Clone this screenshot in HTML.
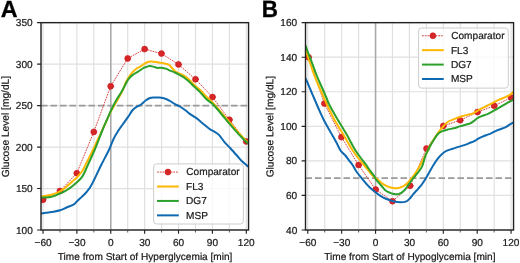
<!DOCTYPE html><html><head><meta charset="utf-8"><title>Glucose levels</title><style>html,body{margin:0;padding:0;background:#fff;width:520px;height:263px;overflow:hidden}svg{display:block;will-change:transform}</style></head><body>
<svg width="520" height="263" viewBox="0 0 520 263">
<rect width="520" height="263" fill="#fff"/>
<defs><clipPath id="ca"><rect x="41.00" y="22.65" width="207.55" height="207.35"/></clipPath>
<clipPath id="cb"><rect x="305.50" y="22.65" width="208.05" height="207.35"/></clipPath></defs>
<path d="M43.01,22.65V230.00M59.95,22.65V230.00M76.89,22.65V230.00M93.83,22.65V230.00M110.77,22.65V230.00M127.71,22.65V230.00M144.65,22.65V230.00M161.59,22.65V230.00M178.53,22.65V230.00M195.47,22.65V230.00M212.42,22.65V230.00M229.36,22.65V230.00M246.30,22.65V230.00M41.00,230.00H248.55M41.00,188.53H248.55M41.00,147.06H248.55M41.00,105.59H248.55M41.00,64.12H248.55M41.00,22.65H248.55" stroke="#e0e0e0" stroke-width="1.2" fill="none"/>
<path d="M110.77,22.65V230.00" stroke="#a8a8a8" stroke-width="1.5" fill="none"/>
<path d="M41.00,105.59H248.55" stroke="#9a9a9a" stroke-width="1.8" stroke-dasharray="6.5 3" fill="none"/>
<g clip-path="url(#ca)" fill="none" stroke-linejoin="round" stroke-linecap="round">
<path d="M43.00,199.80L59.90,191.00L76.80,173.20L93.80,131.90L110.70,86.20L127.70,58.40L144.60,49.10L161.50,53.60L178.50,64.40L195.50,79.30L212.50,97.10L229.40,119.80L246.20,141.40" stroke="#d62728" stroke-width="0.85" stroke-dasharray="1.8 0.9" stroke-linecap="butt"/>
<g fill="#d62728" stroke="#cc141a" stroke-width="0.6"><circle cx="43.00" cy="199.80" r="2.98"/><circle cx="59.90" cy="191.00" r="2.98"/><circle cx="76.80" cy="173.20" r="2.98"/><circle cx="93.80" cy="131.90" r="2.98"/><circle cx="110.70" cy="86.20" r="2.98"/><circle cx="127.70" cy="58.40" r="2.98"/><circle cx="144.60" cy="49.10" r="2.98"/><circle cx="161.50" cy="53.60" r="2.98"/><circle cx="178.50" cy="64.40" r="2.98"/><circle cx="195.50" cy="79.30" r="2.98"/><circle cx="212.50" cy="97.10" r="2.98"/><circle cx="229.40" cy="119.80" r="2.98"/><circle cx="246.20" cy="141.40" r="2.98"/></g>
<path d="M40.50,196.40C40.92,196.37 41.17,196.47 43.00,196.20C44.83,195.93 48.63,195.62 51.50,194.80C54.37,193.98 58.40,192.17 60.20,191.30C62.00,190.43 61.43,190.20 62.30,189.60C63.17,189.00 64.50,188.37 65.40,187.70C66.30,187.03 66.55,186.63 67.70,185.60C68.85,184.57 70.77,182.85 72.30,181.50C73.83,180.15 75.62,178.78 76.90,177.50C78.18,176.22 79.00,175.05 80.00,173.80C81.00,172.55 81.58,172.30 82.90,170.00C84.22,167.70 86.23,163.33 87.90,160.00C89.57,156.67 91.28,153.33 92.90,150.00C94.52,146.67 96.03,143.33 97.60,140.00C99.17,136.67 100.75,133.33 102.30,130.00C103.85,126.67 105.35,123.33 106.90,120.00C108.45,116.67 109.83,113.33 111.60,110.00C113.37,106.67 115.63,103.33 117.50,100.00C119.37,96.67 121.45,92.83 122.80,90.00C124.15,87.17 124.72,84.97 125.60,83.00C126.48,81.03 127.05,79.90 128.10,78.20C129.15,76.50 130.37,74.50 131.90,72.80C133.43,71.10 136.03,68.93 137.30,68.00C138.57,67.07 138.28,67.93 139.50,67.20C140.72,66.47 143.10,64.52 144.60,63.60C146.10,62.68 147.38,62.05 148.50,61.70C149.62,61.35 150.02,61.45 151.30,61.50C152.58,61.55 154.95,61.83 156.20,62.00C157.45,62.17 157.40,62.25 158.80,62.50C160.20,62.75 162.98,63.15 164.60,63.50C166.22,63.85 167.60,64.22 168.50,64.60C169.40,64.98 168.95,64.75 170.00,65.80C171.05,66.85 173.37,69.68 174.80,70.90C176.23,72.12 177.02,72.28 178.60,73.10C180.18,73.92 182.57,74.72 184.30,75.80C186.03,76.88 187.25,78.00 189.00,79.60C190.75,81.20 192.77,83.50 194.80,85.40C196.83,87.30 199.18,89.02 201.20,91.00C203.22,92.98 204.98,95.38 206.90,97.30C208.82,99.22 210.95,100.72 212.70,102.50C214.45,104.28 215.13,105.33 217.40,108.00C219.67,110.67 223.32,114.98 226.30,118.50C229.28,122.02 232.28,125.68 235.30,129.10C238.32,132.52 242.03,136.53 244.40,139.00C246.77,141.47 248.65,143.08 249.50,143.90" stroke="#ffb800" stroke-width="2.00"/>
<path d="M40.50,197.50C40.92,197.48 41.17,197.50 43.00,197.40C44.83,197.30 48.42,197.65 51.50,196.90C54.58,196.15 59.38,193.80 61.50,192.90C63.62,192.00 63.30,191.98 64.20,191.50C65.10,191.02 65.55,190.88 66.90,190.00C68.25,189.12 70.63,187.48 72.30,186.20C73.97,184.92 75.37,183.72 76.90,182.30C78.43,180.88 80.22,179.37 81.50,177.70C82.78,176.03 83.92,173.58 84.60,172.30C85.28,171.02 84.68,172.05 85.60,170.00C86.52,167.95 88.60,163.33 90.10,160.00C91.60,156.67 93.18,153.33 94.60,150.00C96.02,146.67 97.28,143.33 98.60,140.00C99.92,136.67 101.13,133.33 102.50,130.00C103.87,126.67 105.35,123.33 106.80,120.00C108.25,116.67 109.58,113.37 111.20,110.00C112.82,106.63 114.95,102.55 116.50,99.80C118.05,97.05 119.32,95.47 120.50,93.50C121.68,91.53 122.33,90.32 123.60,88.00C124.87,85.68 126.58,81.78 128.10,79.60C129.62,77.42 131.03,76.23 132.70,74.90C134.37,73.57 136.30,72.75 138.10,71.60C139.90,70.45 142.42,68.68 143.50,68.00C144.58,67.32 143.62,67.84 144.60,67.50C145.58,67.16 148.12,66.14 149.40,65.95C150.68,65.76 151.33,66.12 152.30,66.35C153.27,66.57 154.27,67.02 155.20,67.30C156.13,67.58 156.82,67.93 157.90,68.00C158.98,68.07 160.27,67.55 161.70,67.70C163.13,67.85 165.12,68.42 166.50,68.90C167.88,69.38 168.62,70.00 170.00,70.60C171.38,71.20 173.22,71.78 174.80,72.50C176.38,73.22 177.92,74.03 179.50,74.90C181.08,75.77 182.72,76.60 184.30,77.70C185.88,78.80 187.42,80.08 189.00,81.50C190.58,82.92 191.97,84.43 193.80,86.20C195.63,87.97 197.92,89.97 200.00,92.10C202.08,94.23 204.38,97.17 206.30,99.00C208.22,100.83 209.83,101.60 211.50,103.10C213.17,104.60 214.02,105.42 216.30,108.00C218.58,110.58 222.20,115.05 225.20,118.60C228.20,122.15 231.25,125.87 234.30,129.30C237.35,132.73 240.97,136.62 243.50,139.20C246.03,141.78 248.50,143.87 249.50,144.80" stroke="#2ca02c" stroke-width="2.00"/>
<path d="M40.50,213.60C40.92,213.55 41.17,213.57 43.00,213.30C44.83,213.03 48.63,212.50 51.50,212.00C54.37,211.50 57.70,211.05 60.20,210.30C62.70,209.55 64.28,208.45 66.50,207.50C68.72,206.55 71.75,205.63 73.50,204.60C75.25,203.57 75.88,202.35 77.00,201.30C78.12,200.25 79.08,199.35 80.20,198.30C81.32,197.25 82.55,196.15 83.70,195.00C84.85,193.85 85.95,192.82 87.10,191.40C88.25,189.98 89.47,188.37 90.60,186.50C91.73,184.63 92.13,183.78 93.90,180.20C95.67,176.62 98.70,170.03 101.20,165.00C103.70,159.97 106.80,154.42 108.90,150.00C111.00,145.58 112.20,141.77 113.80,138.50C115.40,135.23 117.08,132.65 118.50,130.40C119.92,128.15 120.70,127.25 122.30,125.00C123.90,122.75 126.37,119.40 128.10,116.90C129.83,114.40 131.17,111.73 132.70,110.00C134.23,108.27 135.95,107.37 137.30,106.50C138.65,105.63 139.42,105.80 140.80,104.80C142.18,103.80 144.07,101.63 145.60,100.50C147.13,99.37 148.60,98.50 150.00,98.00C151.40,97.50 152.40,97.57 154.00,97.50C155.60,97.43 157.70,97.40 159.60,97.60C161.50,97.80 163.67,98.13 165.40,98.70C167.13,99.27 168.40,100.08 170.00,101.00C171.60,101.92 173.33,103.28 175.00,104.20C176.67,105.12 178.22,105.45 180.00,106.50C181.78,107.55 184.12,109.32 185.70,110.50C187.28,111.68 188.37,112.73 189.50,113.60C190.63,114.47 191.23,114.87 192.50,115.70C193.77,116.53 195.38,117.32 197.10,118.60C198.82,119.88 200.72,121.67 202.80,123.40C204.88,125.13 207.70,127.63 209.60,129.00C211.50,130.37 212.68,130.67 214.20,131.60C215.72,132.53 216.95,132.82 218.70,134.60C220.45,136.38 222.72,139.98 224.70,142.30C226.68,144.62 228.50,146.22 230.60,148.50C232.70,150.78 235.53,154.00 237.30,156.00C239.07,158.00 240.03,159.28 241.20,160.50C242.37,161.72 243.12,162.28 244.30,163.30C245.48,164.32 247.35,165.82 248.30,166.60C249.25,167.38 249.72,167.77 250.00,168.00" stroke="#0e69b1" stroke-width="2.00"/>
</g>
<rect x="153.65" y="163.90" width="89.70" height="60.10" rx="3" ry="3" fill="#fff" fill-opacity="0.8" stroke="#cdcdcd" stroke-width="1"/>
<path d="M157.05,172.10H178.75" stroke="#d62728" stroke-width="0.85" stroke-dasharray="1.8 0.9"/>
<circle cx="167.95" cy="172.10" r="2.98" fill="#d62728" stroke="#cc141a" stroke-width="0.6"/>
<path d="M157.05,186.52H178.75" stroke="#ffb800" stroke-width="2.00"/>
<path d="M157.05,200.94H178.75" stroke="#2ca02c" stroke-width="2.00"/>
<path d="M157.05,215.36H178.75" stroke="#0e69b1" stroke-width="2.00"/>
<rect x="41.00" y="22.65" width="207.55" height="207.35" fill="none" stroke="#222222" stroke-width="1.4"/>
<path d="M43.01,230.00v3.8M76.89,230.00v3.8M110.77,230.00v3.8M144.65,230.00v3.8M178.53,230.00v3.8M212.42,230.00v3.8M246.30,230.00v3.8M41.00,230.00h-3.9M41.00,188.53h-3.9M41.00,147.06h-3.9M41.00,105.59h-3.9M41.00,64.12h-3.9M41.00,22.65h-3.9" stroke="#222222" stroke-width="1.15" fill="none"/>
<path d="M59.95,230.00v2.5M93.83,230.00v2.5M127.71,230.00v2.5M161.59,230.00v2.5M195.47,230.00v2.5M229.36,230.00v2.5" stroke="#444" stroke-width="0.9" fill="none"/>
<g font-family="Liberation Sans, sans-serif" stroke="#1a1a1a" stroke-width="0.22" transform="matrix(1,0,0.0005,1,0,0)"><text x="186.24" y="175.00" font-size="10.1" fill="#1a1a1a">Comparator</text><text x="185.92" y="190.00" font-size="10.1" fill="#1a1a1a">FL3</text><text x="185.92" y="204.00" font-size="10.1" fill="#1a1a1a">DG7</text><text x="185.92" y="219.00" font-size="10.1" fill="#1a1a1a">MSP</text><text x="34.39" y="246.00" font-size="10.1" fill="#1a1a1a">−60</text><text x="68.27" y="246.00" font-size="10.1" fill="#1a1a1a">−30</text><text x="107.96" y="246.00" font-size="10.1" fill="#1a1a1a">0</text><text x="139.04" y="246.00" font-size="10.1" fill="#1a1a1a">30</text><text x="172.86" y="246.00" font-size="10.1" fill="#1a1a1a">60</text><text x="206.76" y="246.00" font-size="10.1" fill="#1a1a1a">90</text><text x="237.68" y="246.00" font-size="10.1" fill="#1a1a1a">120</text><text x="15.79" y="234.00" font-size="10.1" fill="#1a1a1a">100</text><text x="15.79" y="192.00" font-size="10.1" fill="#1a1a1a">150</text><text x="15.79" y="151.00" font-size="10.1" fill="#1a1a1a">200</text><text x="15.79" y="109.00" font-size="10.1" fill="#1a1a1a">250</text><text x="15.79" y="68.00" font-size="10.1" fill="#1a1a1a">300</text><text x="15.79" y="26.00" font-size="10.1" fill="#1a1a1a">350</text><text x="57.66" y="260.00" font-size="10.1" fill="#1a1a1a">Time from Start of Hyperglycemia [min]</text><text transform="translate(8.80,126.70) rotate(-90)" x="-50.64" y="0" font-size="10.2" fill="#1a1a1a">Glucose Level [mg/dL]</text></g>
<text transform="matrix(1.0000,0,0.0005,1,0.65,17)" x="0" y="0" font-family="Liberation Sans, sans-serif" font-weight="bold" font-size="23.35" fill="#000" stroke="#000" stroke-width="0.3">A</text>
<path d="M307.79,22.65V230.00M324.73,22.65V230.00M341.67,22.65V230.00M358.61,22.65V230.00M375.55,22.65V230.00M392.49,22.65V230.00M409.43,22.65V230.00M426.37,22.65V230.00M443.31,22.65V230.00M460.25,22.65V230.00M477.20,22.65V230.00M494.14,22.65V230.00M511.08,22.65V230.00M305.50,230.00H513.55M305.50,195.44H513.55M305.50,160.88H513.55M305.50,126.33H513.55M305.50,91.77H513.55M305.50,57.21H513.55M305.50,22.65H513.55" stroke="#e0e0e0" stroke-width="1.2" fill="none"/>
<path d="M375.55,22.65V230.00" stroke="#a8a8a8" stroke-width="1.5" fill="none"/>
<path d="M305.50,178.16H513.55" stroke="#9a9a9a" stroke-width="1.8" stroke-dasharray="6.5 3" fill="none"/>
<g clip-path="url(#cb)" fill="none" stroke-linejoin="round" stroke-linecap="round">
<path d="M308.60,57.30L324.40,103.60L341.40,137.10L358.60,165.00L375.70,189.60L392.50,201.20L410.20,185.80L426.50,148.50L443.30,125.90L460.20,120.20L477.50,112.10L494.20,105.80L511.00,97.60" stroke="#d62728" stroke-width="0.85" stroke-dasharray="1.8 0.9" stroke-linecap="butt"/>
<g fill="#d62728" stroke="#cc141a" stroke-width="0.6"><circle cx="308.60" cy="57.30" r="2.98"/><circle cx="324.40" cy="103.60" r="2.98"/><circle cx="341.40" cy="137.10" r="2.98"/><circle cx="358.60" cy="165.00" r="2.98"/><circle cx="375.70" cy="189.60" r="2.98"/><circle cx="392.50" cy="201.20" r="2.98"/><circle cx="410.20" cy="185.80" r="2.98"/><circle cx="426.50" cy="148.50" r="2.98"/><circle cx="443.30" cy="125.90" r="2.98"/><circle cx="460.20" cy="120.20" r="2.98"/><circle cx="477.50" cy="112.10" r="2.98"/><circle cx="494.20" cy="105.80" r="2.98"/><circle cx="511.00" cy="97.60" r="2.98"/></g>
<path d="M305.00,47.90C305.17,48.42 305.33,48.98 306.00,51.00C306.67,53.02 308.08,57.30 309.00,60.00C309.92,62.70 310.63,64.70 311.50,67.20C312.37,69.70 313.25,72.45 314.20,75.00C315.15,77.55 316.15,80.00 317.20,82.50C318.25,85.00 319.40,87.50 320.50,90.00C321.60,92.50 322.68,95.00 323.80,97.50C324.92,100.00 326.03,102.50 327.20,105.00C328.37,107.50 329.58,110.00 330.80,112.50C332.02,115.00 333.15,117.50 334.50,120.00C335.85,122.50 337.38,125.00 338.90,127.50C340.42,130.00 342.10,132.50 343.60,135.00C345.10,137.50 346.43,140.00 347.90,142.50C349.37,145.00 350.75,147.50 352.40,150.00C354.05,152.50 355.87,155.00 357.80,157.50C359.73,160.00 361.65,162.12 364.00,165.00C366.35,167.88 369.93,172.62 371.90,174.80C373.87,176.98 374.70,177.18 375.80,178.10C376.90,179.02 377.35,179.35 378.50,180.30C379.65,181.25 380.85,182.63 382.70,183.80C384.55,184.97 387.48,186.57 389.60,187.30C391.72,188.03 393.92,188.08 395.40,188.20C396.88,188.32 397.65,188.15 398.50,188.00C399.35,187.85 399.63,187.63 400.50,187.30C401.37,186.97 402.53,186.70 403.70,186.00C404.87,185.30 406.35,184.18 407.50,183.10C408.65,182.02 409.50,180.85 410.60,179.50C411.70,178.15 413.03,176.48 414.10,175.00C415.17,173.52 416.07,172.10 417.00,170.60C417.93,169.10 418.30,168.52 419.70,166.00C421.10,163.48 423.65,158.97 425.40,155.50C427.15,152.03 428.50,148.37 430.20,145.20C431.90,142.03 433.58,139.45 435.60,136.50C437.62,133.55 440.23,129.95 442.30,127.50C444.37,125.05 445.93,123.23 448.00,121.80C450.07,120.37 452.48,119.78 454.70,118.90C456.92,118.02 459.08,117.22 461.30,116.50C463.52,115.78 466.05,115.11 468.00,114.60C469.95,114.09 471.10,114.28 473.00,113.45C474.90,112.62 477.20,110.85 479.40,109.65C481.60,108.45 483.95,107.38 486.20,106.25C488.45,105.12 490.82,103.90 492.90,102.85C494.98,101.80 496.62,100.90 498.70,99.95C500.78,99.00 503.48,98.03 505.40,97.15C507.32,96.28 508.77,95.65 510.20,94.70C511.63,93.75 513.37,91.99 514.00,91.45" stroke="#ffb800" stroke-width="2.00"/>
<path d="M305.00,44.60C305.13,44.88 305.23,44.82 305.80,46.30C306.37,47.78 307.53,51.22 308.40,53.50C309.27,55.78 310.12,57.67 311.00,60.00C311.88,62.33 312.78,65.00 313.70,67.50C314.62,70.00 315.50,72.50 316.50,75.00C317.50,77.50 318.60,80.00 319.70,82.50C320.80,85.00 322.00,87.50 323.10,90.00C324.20,92.50 325.23,95.00 326.30,97.50C327.37,100.00 328.28,102.50 329.50,105.00C330.72,107.50 332.20,110.00 333.60,112.50C335.00,115.00 336.42,117.50 337.90,120.00C339.38,122.50 340.98,125.00 342.50,127.50C344.02,130.00 345.58,132.50 347.00,135.00C348.42,137.50 349.63,140.00 351.00,142.50C352.37,145.00 353.62,147.50 355.20,150.00C356.78,152.50 358.65,155.00 360.50,157.50C362.35,160.00 364.97,163.17 366.30,165.00C367.63,166.83 367.18,166.67 368.50,168.50C369.82,170.33 372.98,174.22 374.20,176.00C375.42,177.78 374.38,177.32 375.80,179.20C377.22,181.08 381.00,185.37 382.70,187.30C384.40,189.23 384.85,189.92 386.00,190.80C387.15,191.68 388.48,192.10 389.60,192.60C390.72,193.10 391.68,193.53 392.70,193.80C393.72,194.07 394.73,194.15 395.70,194.20C396.67,194.25 397.55,194.32 398.50,194.10C399.45,193.88 400.28,193.68 401.40,192.90C402.52,192.12 403.93,190.87 405.20,189.40C406.47,187.93 407.77,185.83 409.00,184.10C410.23,182.37 411.38,180.58 412.60,179.00C413.82,177.42 415.12,176.07 416.30,174.60C417.48,173.13 418.70,171.63 419.70,170.20C420.70,168.77 421.30,168.53 422.30,166.00C423.30,163.47 424.37,158.37 425.70,155.00C427.03,151.63 428.92,148.37 430.30,145.80C431.68,143.23 432.77,141.53 434.00,139.60C435.23,137.67 436.32,135.60 437.70,134.20C439.08,132.80 440.57,132.00 442.30,131.20C444.03,130.40 446.18,129.88 448.10,129.40C450.02,128.92 451.88,128.80 453.80,128.30C455.72,127.80 457.67,127.00 459.60,126.40C461.53,125.80 463.72,125.17 465.40,124.70C467.08,124.23 468.27,124.23 469.70,123.60C471.13,122.97 472.80,121.75 474.00,120.90C475.20,120.05 475.73,119.25 476.90,118.50C478.07,117.75 479.65,116.98 481.00,116.40C482.35,115.82 483.67,115.50 485.00,115.00C486.33,114.50 487.05,114.38 489.00,113.40C490.95,112.42 494.28,110.47 496.70,109.10C499.12,107.73 501.42,106.40 503.50,105.20C505.58,104.00 507.45,102.87 509.20,101.90C510.95,100.93 513.20,99.82 514.00,99.40" stroke="#2ca02c" stroke-width="2.00"/>
<path d="M305.00,77.40C305.10,77.63 305.27,78.12 305.60,78.80C305.93,79.48 306.17,79.63 307.00,81.50C307.83,83.37 309.47,87.33 310.60,90.00C311.73,92.67 312.73,95.00 313.80,97.50C314.87,100.00 315.92,102.50 317.00,105.00C318.08,107.50 319.17,110.00 320.30,112.50C321.43,115.00 322.53,117.50 323.80,120.00C325.07,122.50 326.50,125.00 327.90,127.50C329.30,130.00 330.78,132.50 332.20,135.00C333.62,137.50 335.07,140.00 336.40,142.50C337.73,145.00 339.05,148.17 340.20,150.00C341.35,151.83 342.37,152.50 343.30,153.50C344.23,154.50 344.85,154.87 345.80,156.00C346.75,157.13 347.87,158.80 349.00,160.30C350.13,161.80 351.40,163.18 352.60,165.00C353.80,166.82 354.60,168.90 356.20,171.20C357.80,173.50 360.10,176.25 362.20,178.80C364.30,181.35 366.77,184.42 368.80,186.50C370.83,188.58 372.53,189.77 374.40,191.30C376.27,192.83 378.10,194.45 380.00,195.70C381.90,196.95 383.43,197.83 385.80,198.80C388.17,199.77 391.75,200.93 394.20,201.50C396.65,202.07 398.57,202.18 400.50,202.20C402.43,202.22 404.28,202.18 405.80,201.60C407.32,201.02 408.32,199.98 409.60,198.70C410.88,197.42 412.08,195.55 413.50,193.90C414.92,192.25 416.72,190.37 418.10,188.80C419.48,187.23 420.50,186.25 421.80,184.50C423.10,182.75 424.58,180.45 425.90,178.30C427.22,176.15 428.43,173.82 429.70,171.60C430.97,169.38 432.22,167.08 433.50,165.00C434.78,162.92 435.97,160.93 437.40,159.10C438.83,157.27 440.52,155.40 442.10,154.00C443.68,152.60 445.15,151.57 446.90,150.70C448.65,149.83 450.70,149.43 452.60,148.80C454.50,148.17 456.23,147.55 458.30,146.90C460.37,146.25 462.92,145.63 465.00,144.90C467.08,144.17 469.30,143.08 470.80,142.50C472.30,141.92 472.75,142.03 474.00,141.40C475.25,140.77 476.87,139.50 478.30,138.70C479.73,137.90 481.17,137.23 482.60,136.60C484.03,135.97 485.47,135.45 486.90,134.90C488.33,134.35 489.58,134.02 491.20,133.30C492.82,132.58 494.98,131.32 496.60,130.60C498.22,129.88 499.47,129.53 500.90,129.00C502.33,128.47 503.77,128.12 505.20,127.40C506.63,126.68 508.03,125.57 509.50,124.70C510.97,123.83 513.25,122.62 514.00,122.20" stroke="#0e69b1" stroke-width="2.00"/>
</g>
<rect x="418.60" y="28.00" width="89.70" height="60.10" rx="3" ry="3" fill="#fff" fill-opacity="0.8" stroke="#cdcdcd" stroke-width="1"/>
<path d="M422.00,35.75H443.70" stroke="#d62728" stroke-width="0.85" stroke-dasharray="1.8 0.9"/>
<circle cx="432.90" cy="35.75" r="2.98" fill="#d62728" stroke="#cc141a" stroke-width="0.6"/>
<path d="M422.00,50.17H443.70" stroke="#ffb800" stroke-width="2.00"/>
<path d="M422.00,64.59H443.70" stroke="#2ca02c" stroke-width="2.00"/>
<path d="M422.00,79.01H443.70" stroke="#0e69b1" stroke-width="2.00"/>
<rect x="305.50" y="22.65" width="208.05" height="207.35" fill="none" stroke="#222222" stroke-width="1.4"/>
<path d="M307.79,230.00v3.8M341.67,230.00v3.8M375.55,230.00v3.8M409.43,230.00v3.8M443.31,230.00v3.8M477.20,230.00v3.8M511.08,230.00v3.8M305.50,230.00h-3.9M305.50,195.44h-3.9M305.50,160.88h-3.9M305.50,126.33h-3.9M305.50,91.77h-3.9M305.50,57.21h-3.9M305.50,22.65h-3.9" stroke="#222222" stroke-width="1.15" fill="none"/>
<path d="M324.73,230.00v2.5M358.61,230.00v2.5M392.49,230.00v2.5M426.37,230.00v2.5M460.25,230.00v2.5M494.14,230.00v2.5" stroke="#444" stroke-width="0.9" fill="none"/>
<g font-family="Liberation Sans, sans-serif" stroke="#1a1a1a" stroke-width="0.22" transform="matrix(1,0,0.0005,1,0,0)"><text x="451.19" y="39.00" font-size="10.1" fill="#1a1a1a">Comparator</text><text x="450.87" y="54.00" font-size="10.1" fill="#1a1a1a">FL3</text><text x="450.87" y="68.00" font-size="10.1" fill="#1a1a1a">DG7</text><text x="450.87" y="82.00" font-size="10.1" fill="#1a1a1a">MSP</text><text x="299.17" y="246.00" font-size="10.1" fill="#1a1a1a">−60</text><text x="333.05" y="246.00" font-size="10.1" fill="#1a1a1a">−30</text><text x="372.74" y="246.00" font-size="10.1" fill="#1a1a1a">0</text><text x="403.82" y="246.00" font-size="10.1" fill="#1a1a1a">30</text><text x="437.64" y="246.00" font-size="10.1" fill="#1a1a1a">60</text><text x="471.54" y="246.00" font-size="10.1" fill="#1a1a1a">90</text><text x="502.46" y="246.00" font-size="10.1" fill="#1a1a1a">120</text><text x="285.91" y="234.00" font-size="10.1" fill="#1a1a1a">40</text><text x="285.91" y="199.00" font-size="10.1" fill="#1a1a1a">60</text><text x="285.91" y="164.00" font-size="10.1" fill="#1a1a1a">80</text><text x="280.29" y="130.00" font-size="10.1" fill="#1a1a1a">100</text><text x="280.29" y="95.00" font-size="10.1" fill="#1a1a1a">120</text><text x="280.29" y="61.00" font-size="10.1" fill="#1a1a1a">140</text><text x="280.29" y="26.00" font-size="10.1" fill="#1a1a1a">160</text><text x="324.09" y="260.00" font-size="10.1" fill="#1a1a1a">Time from Start of Hypoglycemia [min]</text><text transform="translate(273.30,126.70) rotate(-90)" x="-50.64" y="0" font-size="10.2" fill="#1a1a1a">Glucose Level [mg/dL]</text></g>
<text transform="matrix(0.9540,0,0.0005,1,261.85,17)" x="0" y="0" font-family="Liberation Sans, sans-serif" font-weight="bold" font-size="23.55" fill="#000" stroke="#000" stroke-width="0.3">B</text>
</svg></body></html>
